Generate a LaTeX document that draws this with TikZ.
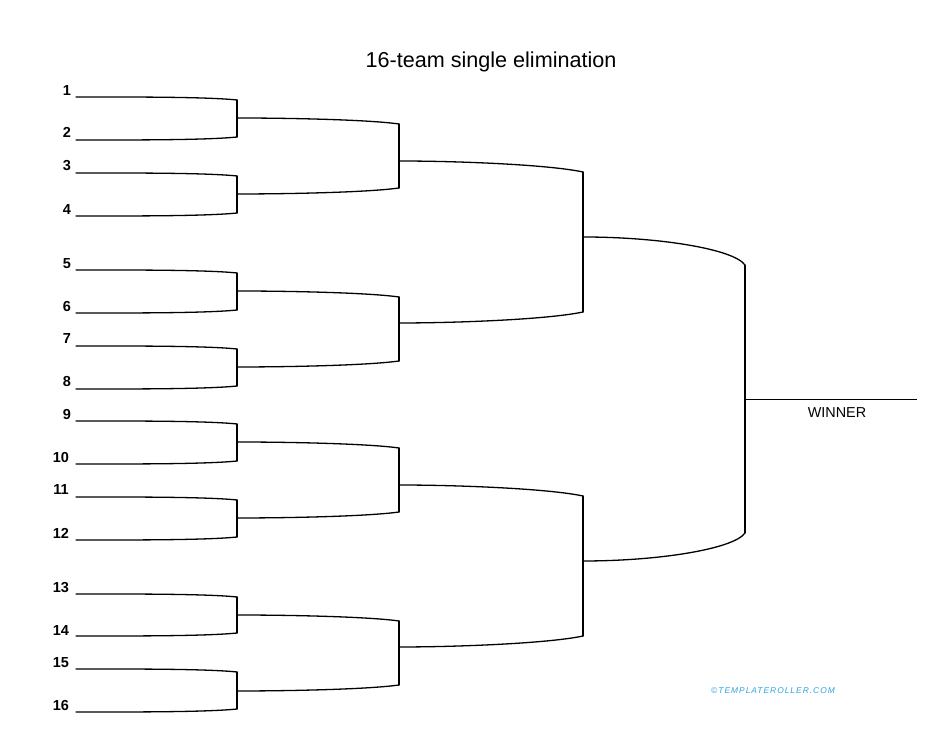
\documentclass[tikz,border=0pt]{standalone}
\usepackage{fontspec}
\setmainfont{Liberation Sans}
\newfontfamily\markfont[LetterSpace=12]{Liberation Sans}
\definecolor{markblue}{HTML}{2FA4DE}
\tikzset{
	seed/.style={font=\bfseries\fontsize{14.5}{14.5}\selectfont, inner sep=0pt},
	bracket/.style={out=0, in=#1, out looseness=0.8, in looseness=0.5},
	bigbracket/.style={out=0, in=#1, out looseness=1.2, in looseness=0.3},
	wire/.style={line width=1.3pt, line cap=round}
}
\begin{document}
\begin{tikzpicture}[x=1pt,y=1pt]
	\useasboundingbox (0,0) rectangle (950,735);
	\node (title) at (491,673.2) {\fontsize{21.6}{21.6}\selectfont 16-team single elimination};

	\node[seed] (1) at (67,644.5) {1};
	\node[seed] (2) at (67,602.5) {2};
	\node[seed] (3) at (67,569.5) {3};
	\node[seed] (4) at (67,525.5) {4};
	\node[seed] (5) at (67,471.5) {5};
	\node[seed] (6) at (67,428.5) {6};
	\node[seed] (7) at (67,396.5) {7};
	\node[seed] (8) at (67,353.5) {8};
	\node[seed] (9) at (67,320.5) {9};
	\node[seed] (10) at (61,277.5) {10};
	\node[seed] (11) at (61,245.5) {11};
	\node[seed] (12) at (61,201.5) {12};
	\node[seed] (13) at (61,147.5) {13};
	\node[seed] (14) at (61,104.5) {14};
	\node[seed] (15) at (61,72.5) {15};
	\node[seed] (16) at (61,29.5) {16};

	% first round
	\coordinate (s1) at (76,638);  \coordinate (a1) at (237,635);
	\coordinate (s2) at (76,595);  \coordinate (a2) at (237,598);
	\coordinate (s3) at (76,562);  \coordinate (a3) at (237,559);
	\coordinate (s4) at (76,519);  \coordinate (a4) at (237,522);
	\coordinate (s5) at (76,465);  \coordinate (a5) at (237,462);
	\coordinate (s6) at (76,422);  \coordinate (a6) at (237,425);
	\coordinate (s7) at (76,389);  \coordinate (a7) at (237,386);
	\coordinate (s8) at (76,346);  \coordinate (a8) at (237,349);
	\coordinate (s9) at (76,314);  \coordinate (a9) at (237,311);
	\coordinate (s10) at (76,271); \coordinate (a10) at (237,274);
	\coordinate (s11) at (76,238); \coordinate (a11) at (237,235);
	\coordinate (s12) at (76,195); \coordinate (a12) at (237,198);
	\coordinate (s13) at (76,141); \coordinate (a13) at (237,138);
	\coordinate (s14) at (76,99);  \coordinate (a14) at (237,102);
	\coordinate (s15) at (76,66);  \coordinate (a15) at (237,63);
	\coordinate (s16) at (76,23);  \coordinate (a16) at (237,26);
	% second round
	\coordinate (b1) at (237,617); \coordinate (c1) at (399,611);
	\coordinate (b2) at (237,541); \coordinate (c2) at (399,547);
	\coordinate (b3) at (237,444); \coordinate (c3) at (399,438);
	\coordinate (b4) at (237,368); \coordinate (c4) at (399,374);
	\coordinate (b5) at (237,293); \coordinate (c5) at (399,287);
	\coordinate (b6) at (237,217); \coordinate (c6) at (399,223);
	\coordinate (b7) at (237,120); \coordinate (c7) at (399,114);
	\coordinate (b8) at (237,44);  \coordinate (c8) at (399,50);
	% third round
	\coordinate (d1) at (399,574); \coordinate (e1) at (583,563);
	\coordinate (d2) at (399,412); \coordinate (e2) at (583,423);
	\coordinate (d3) at (399,250); \coordinate (e3) at (583,239);
	\coordinate (d4) at (399,88);  \coordinate (e4) at (583,99);
	% final
	\coordinate (f1) at (583,498); \coordinate (g1) at (745,470);
	\coordinate (f2) at (583,174); \coordinate (g2) at (745,202);
	\coordinate (h) at (745,336);  \coordinate (w) at (917,336);

	\draw[wire] (s1) edge[bracket=174] (a1)
	(s2) edge[bracket=-174] (a2)
	(s3) edge[bracket=174] (a3)
	(s4) edge[bracket=-174] (a4)
	(s5) edge[bracket=174] (a5)
	(s6) edge[bracket=-174] (a6)
	(s7) edge[bracket=174] (a7)
	(s8) edge[bracket=-174] (a8)
	(s9) edge[bracket=174] (a9)
	(s10) edge[bracket=-174] (a10)
	(s11) edge[bracket=174] (a11)
	(s12) edge[bracket=-174] (a12)
	(s13) edge[bracket=174] (a13)
	(s14) edge[bracket=-174] (a14)
	(s15) edge[bracket=174] (a15)
	(s16) edge[bracket=-174] (a16);
	\draw[wire] (a1) -- (a2) (a3) -- (a4) (a5) -- (a6) (a7) -- (a8)
	(a9) -- (a10) (a11) -- (a12) (a13) -- (a14) (a15) -- (a16);

	\draw[wire] (b1) edge[bracket=172] (c1)
	(b2) edge[bracket=-172] (c2)
	(b3) edge[bracket=172] (c3)
	(b4) edge[bracket=-172] (c4)
	(b5) edge[bracket=172] (c5)
	(b6) edge[bracket=-172] (c6)
	(b7) edge[bracket=172] (c7)
	(b8) edge[bracket=-172] (c8);
	\draw[wire] (c1) -- (c2) (c3) -- (c4) (c5) -- (c6) (c7) -- (c8);

	\draw[wire] (d1) edge[bracket=168] (e1)
	(d2) edge[bracket=-168] (e2)
	(d3) edge[bracket=168] (e3)
	(d4) edge[bracket=-168] (e4);
	\draw[wire] (e1) -- (e2) (e3) -- (e4);

	\draw[wire] (f1) edge[bigbracket=125] (g1)
	(f2) edge[bigbracket=-125] (g2);
	\draw[wire] (g1) -- (g2);
	\draw[line width=0.9pt] (h) -- (w);

	\node (winner) at (837,322.3) {\fontsize{14.4}{14.4}\selectfont WINNER};
	\node[text=markblue] (mark) at (773,44) {\markfont\itshape\fontsize{8.4}{8.4}\selectfont ©TEMPLATEROLLER.COM};
\end{tikzpicture}
\end{document}
